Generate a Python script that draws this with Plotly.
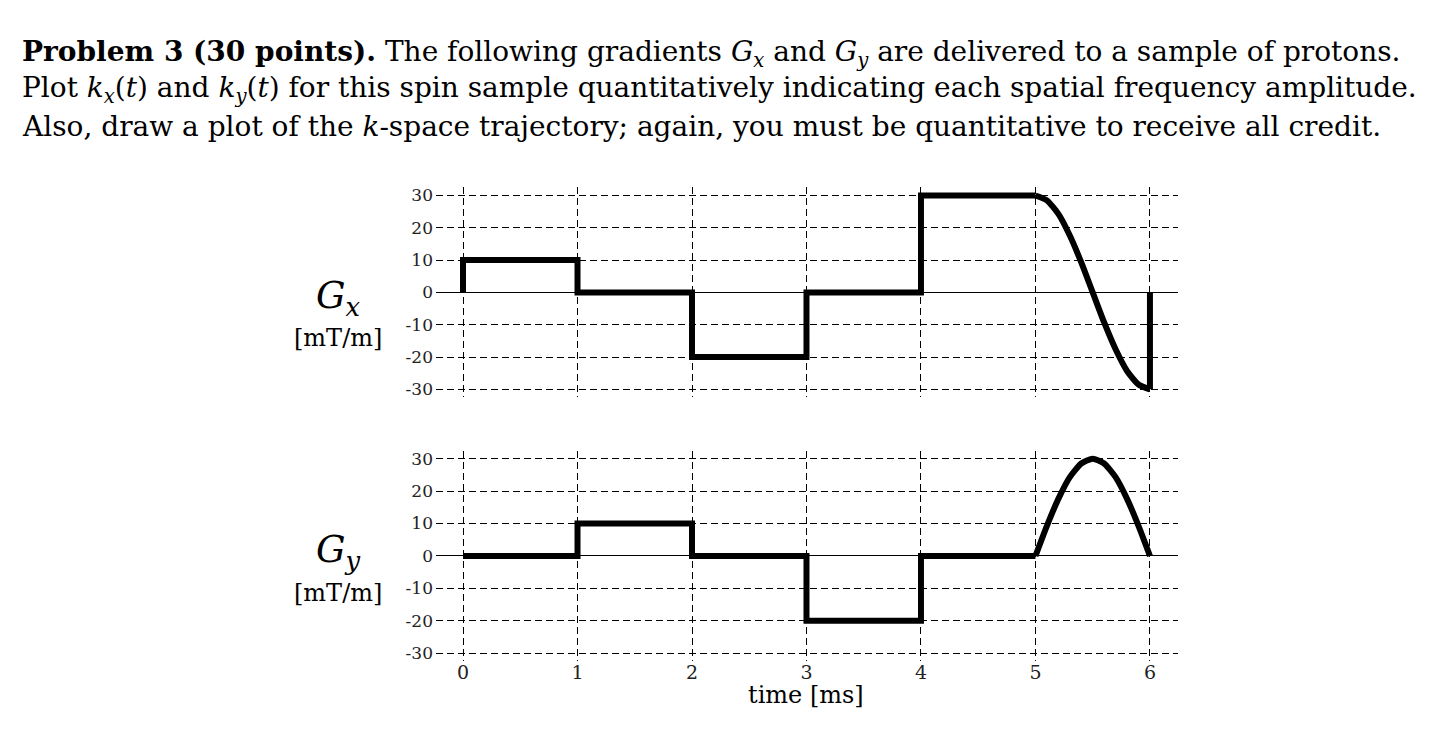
import plotly.graph_objects as go

# gradient waveforms (time in ms, amplitude in mT/m)
gx_step_t = [0, 0, 1, 1, 2, 2, 3, 3, 4, 4, 5]
gx_step_v = [0, 10, 10, 0, 0, -20, -20, 0, 0, 30, 30]
gx_curve_t = [5.0, 5.1, 5.2, 5.3, 5.4, 5.5, 5.6, 5.7, 5.8, 5.9, 6.0]
gx_curve_v = [30, 28.5, 24.3, 17.6, 9.3, 0, -9.3, -17.6, -24.3, -28.5, -30]
gx_tail_t = [6, 6]
gx_tail_v = [-30, 0]

gy_step_t = [0, 1, 1, 2, 2, 3, 3, 4, 4, 5]
gy_step_v = [0, 0, 10, 10, 0, 0, -20, -20, 0, 0]
gy_curve_t = [5.0, 5.1, 5.2, 5.3, 5.4, 5.5, 5.6, 5.7, 5.8, 5.9, 6.0]
gy_curve_v = [0, 9.3, 17.6, 24.3, 28.5, 30, 28.5, 24.3, 17.6, 9.3, 0]

time_ticks = [0, 1, 2, 3, 4, 5, 6]
amp_ticks = [-30, -20, -10, 0, 10, 20, 30]
amp_labels = ["-30", "-20", "-10", "0", "10", "20", "30"]

# the page body has an 8px margin, so the figure is drawn 8px in from the corner
OFF = 8
W, H = 1454 - 2 * OFF, 740 - 2 * OFF
SERIF = "DejaVu Serif"
LINE = dict(color="black", width=6)


def px_x(x):
    return (x - OFF) / W


def px_y(y):
    return 1 - (y - OFF) / H


fig = go.Figure()

fig.add_trace(go.Scatter(x=gx_step_t, y=gx_step_v, mode="lines", line=LINE,
                         xaxis="x", yaxis="y", showlegend=False))
fig.add_trace(go.Scatter(x=gx_curve_t, y=gx_curve_v, mode="lines",
                         line=dict(LINE, shape="spline", smoothing=0.6),
                         xaxis="x", yaxis="y", showlegend=False))
fig.add_trace(go.Scatter(x=gx_tail_t, y=gx_tail_v, mode="lines", line=LINE,
                         xaxis="x", yaxis="y", showlegend=False))
fig.add_trace(go.Scatter(x=gy_step_t, y=gy_step_v, mode="lines", line=LINE,
                         xaxis="x2", yaxis="y2", showlegend=False))
fig.add_trace(go.Scatter(x=gy_curve_t, y=gy_curve_v, mode="lines",
                         line=dict(LINE, shape="spline", smoothing=0.6),
                         xaxis="x2", yaxis="y2", showlegend=False))

xdom = [px_x(436), px_x(1178)]
grid = dict(showgrid=True, gridcolor="black", gridwidth=1.2, griddash="7px,4px",
            showline=False, ticks="")

xcommon = dict(range=[-0.236, 6.245], tickvals=time_ticks, domain=xdom,
               zeroline=False, **grid)
ycommon = dict(range=[-32.5, 32.5], tickvals=amp_ticks, ticktext=amp_labels,
               zeroline=True, zerolinecolor="black", zerolinewidth=1.3,
               tickfont=dict(family=SERIF, size=17, color="#222"),
               ticklabelstandoff=2, **grid)

fig.update_layout(
    width=W, height=H,
    margin=dict(l=0, r=0, t=0, b=0),
    plot_bgcolor="white",
    paper_bgcolor="white",
    font=dict(family=SERIF, color="black"),
    xaxis=dict(xcommon, anchor="y", showticklabels=False),
    yaxis=dict(ycommon, anchor="x", domain=[px_y(397.6), px_y(186.4)]),
    xaxis2=dict(xcommon, anchor="y2", showticklabels=True, ticklabelstandoff=-2,
                tickfont=dict(family=SERIF, size=19, color="#222")),
    yaxis2=dict(ycommon, anchor="x2", domain=[px_y(663), px_y(451)]),
)

lines = [
    "<b>Problem 3 (30 points).</b> The following gradients <i>G</i><sub><i>x</i></sub> "
    "and <i>G</i><sub><i>y</i></sub> are delivered to a sample of protons.",
    "Plot <i>k</i><sub><i>x</i></sub>(<i>t</i>) and <i>k</i><sub><i>y</i></sub>(<i>t</i>) "
    "for this spin sample quantitatively indicating each spatial frequency amplitude.",
    "Also, draw a plot of the <i>k</i>-space trajectory; again, you must be "
    "quantitative to receive all credit.",
]
for ypix, txt in zip([52, 88, 125], lines):
    fig.add_annotation(x=px_x(20), y=px_y(ypix), xref="paper", yref="paper",
                       xanchor="left", yanchor="middle", showarrow=False,
                       text=txt, font=dict(family=SERIF, size=28))

labels = [
    (338, 298, "<i>G</i><sub><i>x</i></sub>", 37),
    (338, 338, "[mT/m]", 24),
    (338, 553, "<i>G</i><sub><i>y</i></sub>", 37),
    (338, 594, "[mT/m]", 24),
    (806, 697, "time [ms]", 24),
]
for xpix, ypix, txt, size in labels:
    fig.add_annotation(x=px_x(xpix), y=px_y(ypix), xref="paper", yref="paper",
                       xanchor="center", yanchor="middle", showarrow=False,
                       text=txt, font=dict(family=SERIF, size=size))

fig.write_html("out.html")
